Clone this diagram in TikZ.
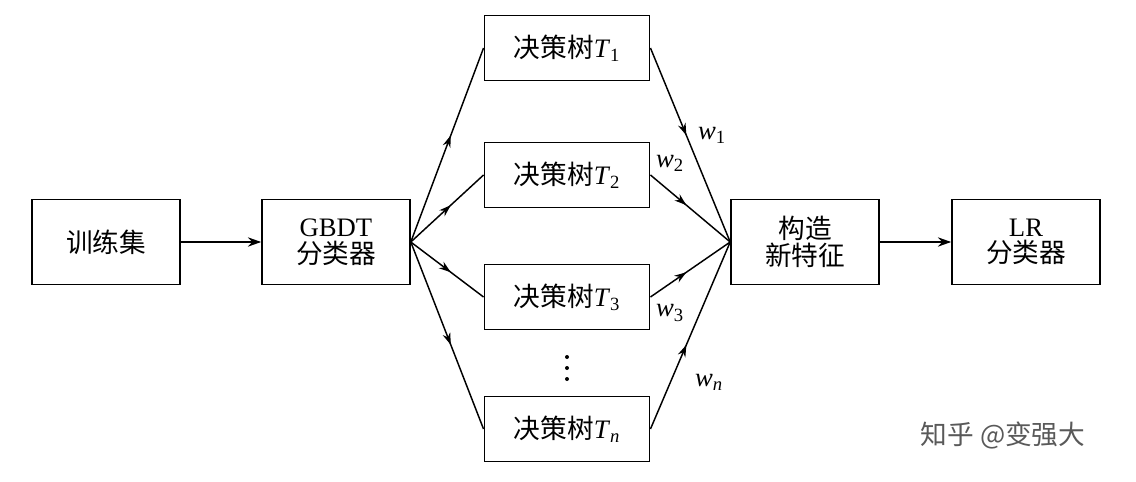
\documentclass[tikz,border=0pt]{standalone}
\usepackage{fontspec}
\setmainfont{Liberation Serif}
\newfontfamily\cjk{Noto Sans CJK SC}
\usetikzlibrary{decorations.markings,arrows.meta}
\newcommand{\vv}[2]{\textit{#1}\textsubscript{#2}}
\begin{document}
\begin{tikzpicture}[x=0.75pt,y=-0.75pt,
  bx/.style={draw,line width=1.2pt,minimum width=111pt,minimum height=64pt,align=center,font=\cjk\fontsize{20}{23}\selectfont},
  tb/.style={draw,line width=1.2pt,minimum width=124pt,minimum height=49pt,font=\cjk\fontsize{20}{23}\selectfont},
  ln/.style={line width=1.1pt},
  mid/.style={ln,postaction={decorate},decoration={markings,mark=at position #1 with {\arrow{Stealth[length=9pt,width=6pt]}}}},
  wl/.style={font=\fontsize{20}{22}\selectfont}]
\useasboundingbox (0,0) rectangle (1136,482);
\fill[white] (0,0) rectangle (1136,482);
\node[bx] (train) at (106,242) {训练集};
\node[bx,font=\fontsize{20}{23}\selectfont] (gbdt) at (336,242) {GBDT\\[-3pt]{\cjk 分类器}};
\node[bx] (feat) at (805,242) {构造\\[-3pt]新特征};
\node[bx,font=\fontsize{20}{23}\selectfont] (lr) at (1026,242) {LR\\[-3pt]{\cjk 分类器}};
\node[tb] (t1) at (567,48) {决策树{\rmfamily\vv{T}{1}}};
\node[tb] (t2) at (567,175) {决策树{\rmfamily\vv{T}{2}}};
\node[tb] (t3) at (567,297) {决策树{\rmfamily\vv{T}{3}}};
\node[tb] (tn) at (567,429) {决策树{\rmfamily\vv{T}{\textit{n}}}};
\foreach \yy in {357,368,379} \fill (567,\yy) circle (1.5pt);
\draw[ln,-{Stealth[length=10pt,width=7pt]}] (train) -- (gbdt);
\draw[ln,-{Stealth[length=10pt,width=7pt]}] (feat) -- (lr);
\coordinate (go) at (gbdt.east);
\coordinate (fi) at (feat.west);
\foreach \t in {t1,t2,t3,tn}{
  \draw[mid=0.55] (go) -- (\t.west);
  \draw[mid=0.45] (\t.east) -- (fi);
}
\node[wl] (w1) at (712,135) {\vv{w}{1}};
\node[wl] (w2) at (670,163) {\vv{w}{2}};
\node[wl] (w3) at (670,313) {\vv{w}{3}};
\node[wl] (wn) at (709,382) {\vv{w}{\textit{n}}};
\node[font=\cjk\fontsize{20}{22}\selectfont,text=black!65] (wm) at (1003,435) {知乎 @变强大};
\end{tikzpicture}
\end{document}
